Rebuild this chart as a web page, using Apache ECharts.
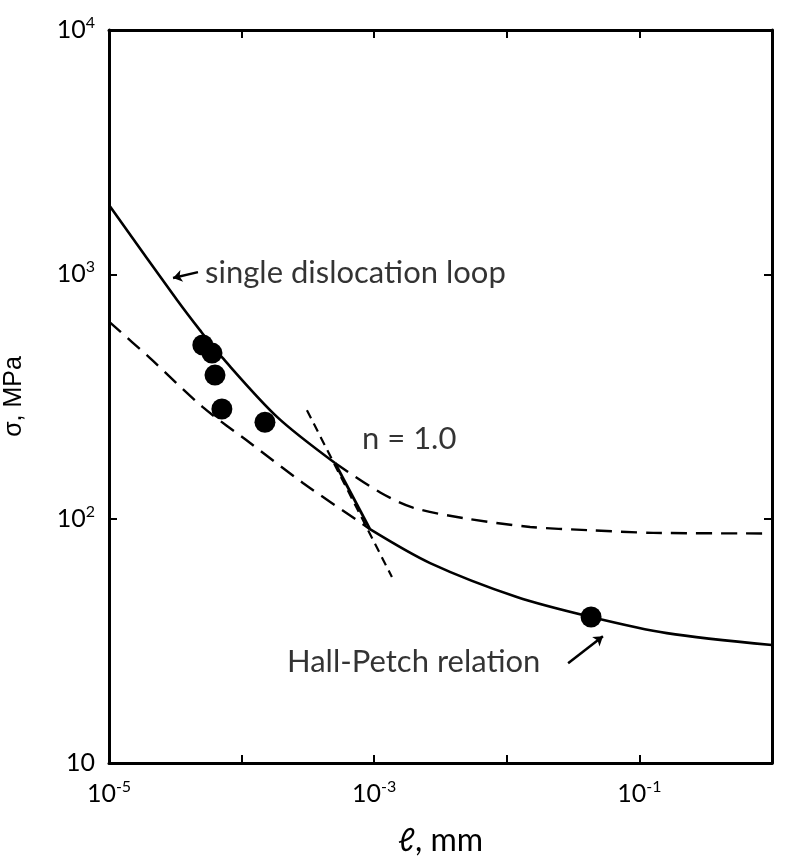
<!DOCTYPE html>
<html>
<head>
<meta charset="utf-8">
<script src="https://cdn.jsdelivr.net/npm/echarts@6/dist/echarts.min.js"></script>
<style>
html,body{margin:0;padding:0;background:#fff;}
#chart{width:785px;height:859px;}
</style>
</head>
<body>
<div id="chart"></div>
<script>
// ---- data (x: ℓ in mm, y: σ in MPa) ----
const loopSolidX = [1e-5, 3.26e-5, 4.85e-5, 7.1e-5, 1.85e-4, 5.06e-4];
const loopSolidY = [1920, 785, 591, 458, 261, 169];
const loopDashX = [5.06e-4, 1.11e-3, 1.96e-3, 4.68e-3, 0.015, 0.0403, 0.127, 1];
const loopDashY = [169, 128, 111, 100.6, 92.5, 89.8, 87.5, 87];
const hpDashX = [1e-5, 2.04e-5, 5.1e-5, 1.16e-4, 2.9e-4, 7.41e-4, 9.29e-4];
const hpDashY = [640, 454, 286, 204, 140, 98.6, 90.6];
const hpSolidX = [9.29e-4, 2.64e-3, 0.0119, 0.0432, 0.161, 1];
const hpSolidY = [90.6, 65.8, 47.8, 39.6, 34, 30.4];
const nDashX = [3.11e-4, 1.36e-3];
const nDashY = [278, 57.7];
const nSolidX = [5.06e-4, 9.29e-4];
const nSolidY = [169, 90.6];
const dotX = [5.1e-5, 5.98e-5, 6.3e-5, 7.1e-5, 1.5e-4, 0.0432];
const dotY = [514, 476, 387, 281, 248, 39.6];
// tick labels
const xLabelExponents = [-5, -3, -1];
const yLabelExponents = [1, 2, 3, 4];
// annotation texts and their anchors (data space)
const noteTexts = ['single dislocation loop', 'n = 1.0', 'Hall-Petch relation'];
const noteX = [5.3e-5, 8.09e-4, 2.2e-4];
const noteY = [1010, 212, 25.9];

const zip = (xs, ys) => xs.map((x, i) => [x, ys[i]]);
const FONT = 'Lato';
const supRich = {
  b: {fontSize: 25, lineHeight: 30, fontFamily: FONT, color: '#000'},
  s: {fontSize: 16, lineHeight: 16, verticalAlign: 'top', fontFamily: FONT, color: '#000'}
};
function fmtX(v) {
  const e = Math.round(Math.log10(v));
  return xLabelExponents.indexOf(e) >= 0 ? '{b|10}{s|' + e + '}' : '';
}
function fmtY(v) {
  const e = Math.round(Math.log10(v));
  if (yLabelExponents.indexOf(e) < 0) return '';
  return e === 1 ? '{b|10}' : '{b|10}{s|' + e + '}';
}
const axisLine = {show: true, lineStyle: {color: '#000', width: 3}};
const tick = {show: true, inside: true, length: 8, lineStyle: {color: '#000', width: 2}};

const chart = echarts.init(document.getElementById('chart'));
chart.setOption({
  animation: false,
  backgroundColor: '#fff',
  grid: {left: 109, top: 30, right: 13, bottom: 96, containLabel: false, outerBoundsMode: 'none'},
  xAxis: [
    {type: 'log', logBase: 10, min: 1e-5, max: 1, position: 'bottom',
     axisLine: axisLine, axisTick: tick, splitLine: {show: false}, minorTick: {show: false},
     axisLabel: {formatter: fmtX, rich: supRich, margin: 16, color: '#000'},
     name: 'ℓ, mm', nameLocation: 'middle', nameGap: 62,
     nameTextStyle: {fontSize: 32, fontFamily: FONT, color: '#000'}},
    {type: 'log', logBase: 10, min: 1e-5, max: 1, position: 'top',
     axisLine: axisLine, axisTick: tick, splitLine: {show: false}, axisLabel: {show: false}}
  ],
  yAxis: [
    {type: 'log', logBase: 10, min: 10, max: 10000, position: 'left',
     axisLine: axisLine, axisTick: tick, splitLine: {show: false}, minorTick: {show: false},
     axisLabel: {formatter: fmtY, rich: supRich, margin: 14, color: '#000'},
     name: 'σ, MPa', nameLocation: 'middle', nameGap: 82,
     nameTextStyle: {fontSize: 25, fontFamily: 'Liberation Sans', color: '#000'}},
    {type: 'log', logBase: 10, min: 10, max: 10000, position: 'right',
     axisLine: axisLine, axisTick: tick, splitLine: {show: false}, axisLabel: {show: false}}
  ],
  series: [
    {type: 'line', data: zip(loopSolidX, loopSolidY), smooth: 0.3, symbol: 'none',
     lineStyle: {color: '#000', width: 2.6},
     markLine: {silent: true, symbol: ['arrow', 'none'], symbolSize: [9, 9],
       lineStyle: {color: '#000', width: 2.5, type: 'solid', curveness: 0.15}, label: {show: false},
       data: [[{coord: [3.04e-5, 966]}, {coord: [4.69e-5, 1021]}]]}},
    {type: 'line', data: zip(loopDashX, loopDashY), smooth: 0.3, symbol: 'none',
     lineStyle: {color: '#000', width: 2.4, type: [16, 9]}},
    {type: 'line', data: zip(hpDashX, hpDashY), smooth: 0.3, symbol: 'none',
     lineStyle: {color: '#000', width: 2.4, type: [16, 9]}},
    {type: 'line', data: zip(hpSolidX, hpSolidY), smooth: 0.3, symbol: 'none',
     lineStyle: {color: '#000', width: 2.6},
     markLine: {silent: true, symbol: ['none', 'arrow'], symbolSize: [9, 9],
       lineStyle: {color: '#000', width: 2.5, type: 'solid', curveness: -0.4}, label: {show: false},
       data: [[{coord: [0.029, 25.6]}, {coord: [0.0531, 33.0]}]]}},
    {type: 'line', data: zip(nDashX, nDashY), symbol: 'none',
     lineStyle: {color: '#000', width: 2.2, type: [9, 6]}},
    {type: 'line', data: zip(nSolidX, nSolidY), symbol: 'none',
     lineStyle: {color: '#000', width: 2.8}},
    {type: 'scatter', data: zip(dotX, dotY), symbol: 'circle', symbolSize: 21,
     itemStyle: {color: '#000', opacity: 1}},
    {type: 'scatter', symbolSize: 0, silent: true,
     data: noteTexts.map((t, i) => ({value: [noteX[i], noteY[i]], name: t})),
     label: {show: true, position: 'right', distance: 0, formatter: p => p.name,
       fontSize: 31, fontFamily: FONT, color: '#000'}}
  ]
});
</script>
</body>
</html>
